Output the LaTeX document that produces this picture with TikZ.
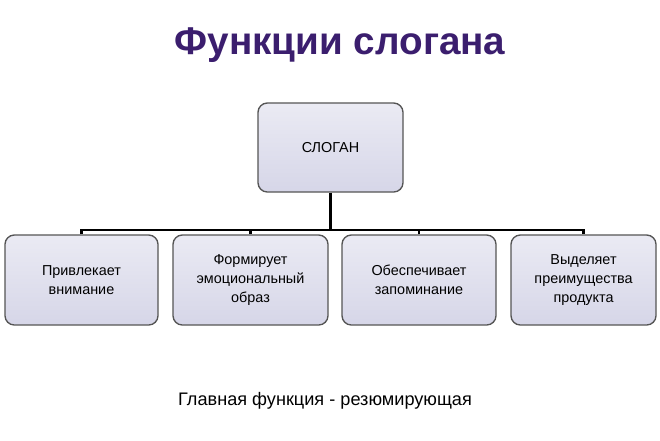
\documentclass[tikz,border=0pt]{standalone}
\usepackage{fontspec}
\setmainfont{Liberation Sans}
\definecolor{titlec}{HTML}{3B1E6E}
\definecolor{boxfill}{HTML}{D6D6E8}
\definecolor{boxdraw}{HTML}{555555}
\tikzset{
 fbox/.style={draw=boxdraw, line width=1pt, rounded corners=7pt, top color=white!50!boxfill, bottom color=boxfill, align=center, font=\fontsize{10.8}{14}\selectfont, inner sep=0pt},
 conn/.style={line width=2.2pt, black}
}
\begin{document}
\begin{tikzpicture}[x=0.75pt,y=-0.75pt]
\useasboundingbox (0,0) rectangle (660,440);
\node[font=\bfseries\fontsize{29}{34}\selectfont, text=titlec] (t) at (340,45) {Функции слогана};
\node[fbox, minimum width=145*0.75pt, minimum height=89*0.75pt] (s) at (330.5,147.5) {СЛОГАН};
\node[fbox, minimum width=153*0.75pt, minimum height=90*0.75pt] (a) at (81.5,280) {Привлекает\\внимание};
\node[fbox, minimum width=155*0.75pt, minimum height=90*0.75pt] (b) at (250.5,280) {Формирует\\эмоциональный\\образ};
\node[fbox, minimum width=154*0.75pt, minimum height=90*0.75pt] (c) at (419,280) {Обеспечивает\\запоминание};
\node[fbox, minimum width=145*0.75pt, minimum height=90*0.75pt] (d) at (583.5,280) {Выделяет\\преимущества\\продукта};
\coordinate (j) at (330.5,230);
\draw[conn] (s.south) -- (j);
\draw[conn] (a.north) -- (a.north |- j) -- (d.north |- j) -- (d.north);
\draw[conn] (b.north) -- (b.north |- j);
\draw[conn] (c.north) -- (c.north |- j);
\node[font=\fontsize{13.6}{16}\selectfont] (m) at (325,401) {Главная функция - резюмирующая};
\end{tikzpicture}
\end{document}
